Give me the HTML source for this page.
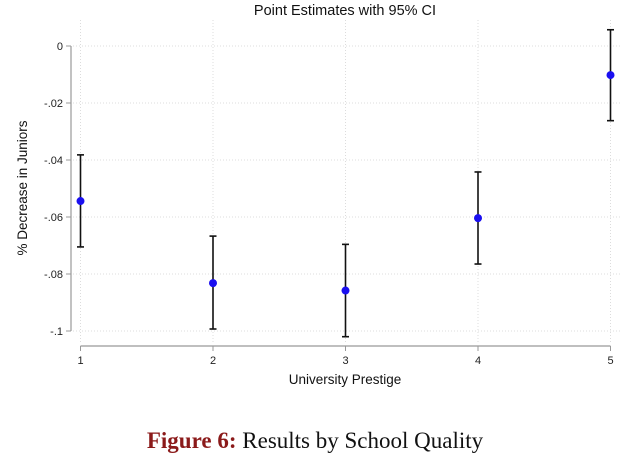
<!DOCTYPE html>
<html><head><meta charset="utf-8">
<style>
html,body{margin:0;padding:0;background:#fff;}
svg{display:block;}
</style></head>
<body>
<svg id="chart" width="640" height="453" viewBox="0 0 640 453" xmlns="http://www.w3.org/2000/svg" font-family="'Liberation Sans', sans-serif">
<text x="345" y="15" font-size="14.5" text-anchor="middle" fill="#111">Point Estimates with 95% CI</text>
<g id="grid"></g>
<g id="axes"></g>
<g id="marks"></g>
<text transform="translate(27,188) rotate(-90)" font-size="13.5" text-anchor="middle" fill="#111">% Decrease in Juniors</text>
<text x="345" y="384" font-size="13.5" text-anchor="middle" fill="#111">University Prestige</text>
<text x="315" y="448" font-size="23" text-anchor="middle" font-family="'Liberation Serif', serif" fill="#111"><tspan fill="#8b1a1a" font-weight="bold">Figure 6:</tspan> Results by School Quality</text>
</svg>
<script>
const categories = [1, 2, 3, 4, 5];
const estimates = [-0.0544, -0.0832, -0.0858, -0.0604, -0.0102];
const ciLower = [-0.0705, -0.0993, -0.1020, -0.0765, -0.0262];
const ciUpper = [-0.0382, -0.0667, -0.0696, -0.0442, 0.0057];
const yTicks = [0, -0.02, -0.04, -0.06, -0.08, -0.1];
const yTickLabels = ["0", "-.02", "-.04", "-.06", "-.08", "-.1"];
const xTickLabels = ["1", "2", "3", "4", "5"];

const NS = "http://www.w3.org/2000/svg";
const xScale = v => 80.5 + (v - 1) * 132.5;
const yScale = v => 46 - v * 2850;
function mk(tag, attrs, parent) {
  const e = document.createElementNS(NS, tag);
  for (const k in attrs) e.setAttribute(k, attrs[k]);
  parent.appendChild(e);
  return e;
}
const grid = document.getElementById('grid');
const axes = document.getElementById('axes');
const marks = document.getElementById('marks');

yTicks.forEach((t, i) => {
  const y = yScale(t);
  const g = mk('line', {x1: 73, x2: 622, y1: y, y2: y, stroke: '#dcdcdc', 'stroke-width': 1, 'stroke-dasharray': '1,2'}, grid);
  
  
  const tk = mk('line', {x1: 66, x2: 71, y1: y, y2: y, stroke: '#999', 'stroke-width': 1}, axes);
  
  
  const lb = mk('text', {x: 63, y: y + 4, 'font-size': 11, 'text-anchor': 'end', fill: '#222'}, axes);
  lb.textContent = yTickLabels[i];
  
  
});
categories.forEach((c, i) => {
  const x = xScale(c);
  const g = mk('line', {x1: x, x2: x, y1: 20, y2: 344, stroke: '#dcdcdc', 'stroke-width': 1, 'stroke-dasharray': '1,2'}, grid);
  
  
  const tk = mk('line', {x1: x, x2: x, y1: 346, y2: 351, stroke: '#999', 'stroke-width': 1}, axes);
  
  
  const lb = mk('text', {x: x, y: 364, 'font-size': 11, 'text-anchor': 'middle', fill: '#222'}, axes);
  lb.textContent = xTickLabels[i];
  
  
});
const ya = mk('line', {x1: 71, x2: 71, y1: yScale(0), y2: yScale(-0.1), stroke: '#999', 'stroke-width': 1.2}, axes);


const xa = mk('line', {x1: xScale(1), x2: xScale(5), y1: 346, y2: 346, stroke: '#999', 'stroke-width': 1.2}, axes);



categories.forEach((c, i) => {
  const x = xScale(c);
  const yl = yScale(ciLower[i]), yu = yScale(ciUpper[i]);
  const v = mk('line', {x1: x, x2: x, y1: yu, y2: yl, stroke: '#111', 'stroke-width': 1.6}, marks);
  
  
  const t = mk('line', {x1: x - 3.5, x2: x + 3.5, y1: yu, y2: yu, stroke: '#111', 'stroke-width': 1.6}, marks);
  
  
  const b = mk('line', {x1: x - 3.5, x2: x + 3.5, y1: yl, y2: yl, stroke: '#111', 'stroke-width': 1.6}, marks);
  
  
  const p = mk('circle', {cx: x, cy: yScale(estimates[i]), r: 4, fill: '#1a0ff0'}, marks);
  
  
});
</script>
</body></html>
